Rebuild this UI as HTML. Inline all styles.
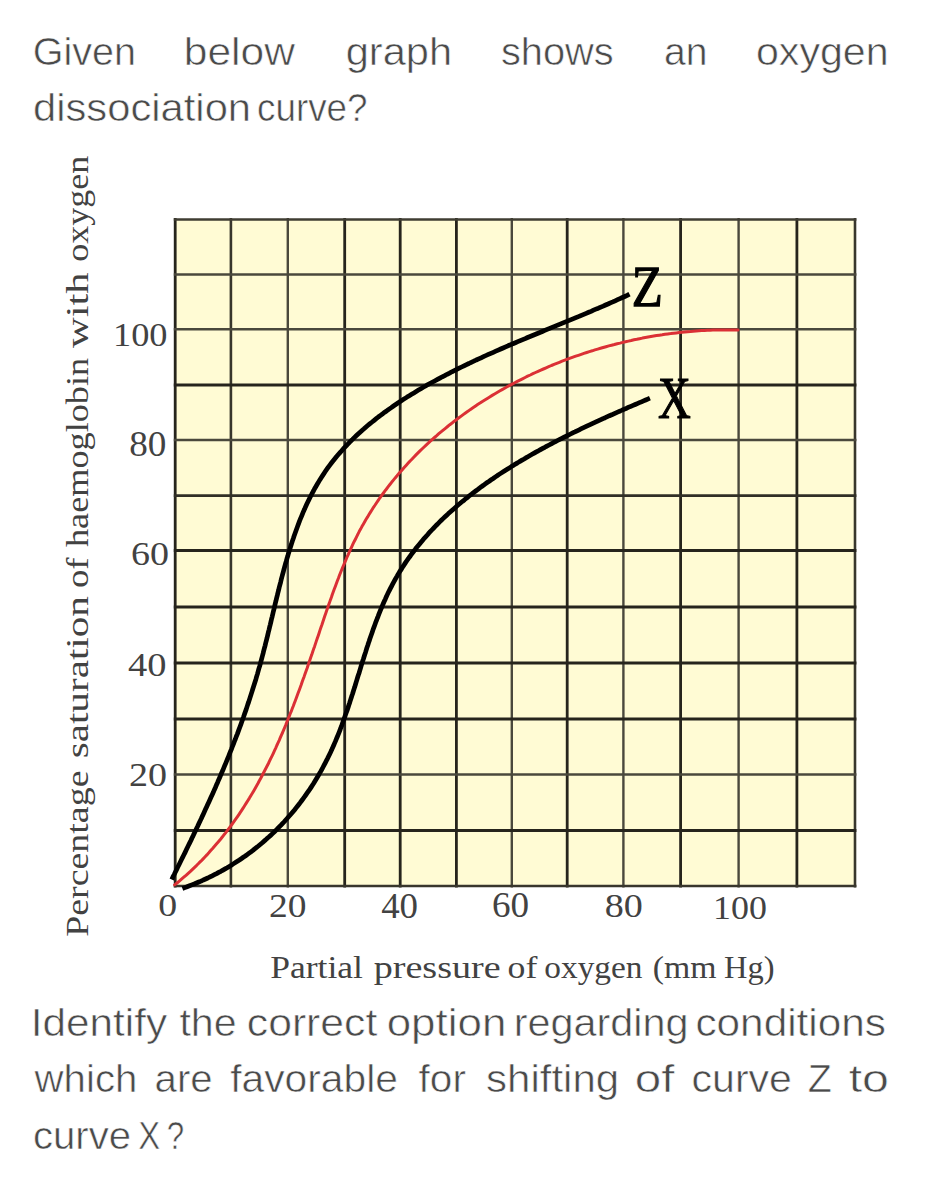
<!DOCTYPE html>
<html><head><meta charset="utf-8"><title>Oxygen dissociation curve</title>
<style>
html,body{margin:0;padding:0;background:#fff;width:929px;height:1200px;overflow:hidden;font-family:"Liberation Sans",sans-serif;}
svg{display:block}
</style></head><body>
<svg width="929" height="1200" viewBox="0 0 929 1200">
<text transform="translate(32.72 64.70) scale(0.9890 0.9600)" font-size="40" fill="#4a4a4a" style="font-family:'Liberation Sans', sans-serif" stroke="#fff" stroke-width="0.6">Given</text>
<text transform="translate(183.73 64.70) scale(1.0637 0.9600)" font-size="40" fill="#4a4a4a" style="font-family:'Liberation Sans', sans-serif" stroke="#fff" stroke-width="0.6">below</text>
<text transform="translate(345.63 64.70) scale(1.0408 0.9600)" font-size="40" fill="#4a4a4a" style="font-family:'Liberation Sans', sans-serif" stroke="#fff" stroke-width="0.6">graph</text>
<text transform="translate(500.90 64.70) scale(0.9955 0.9600)" font-size="40" fill="#4a4a4a" style="font-family:'Liberation Sans', sans-serif" stroke="#fff" stroke-width="0.6">shows</text>
<text transform="translate(664.04 64.70) scale(0.9776 0.9600)" font-size="40" fill="#4a4a4a" style="font-family:'Liberation Sans', sans-serif" stroke="#fff" stroke-width="0.6">an</text>
<text transform="translate(755.95 64.70) scale(1.0289 0.9600)" font-size="40" fill="#4a4a4a" style="font-family:'Liberation Sans', sans-serif" stroke="#fff" stroke-width="0.6">oxygen</text>
<text transform="translate(32.93 120.50) scale(1.0439 0.9600)" font-size="40" fill="#4a4a4a" style="font-family:'Liberation Sans', sans-serif" stroke="#fff" stroke-width="0.6">dissociation</text>
<text transform="translate(257.04 120.50) scale(0.9204 0.9600)" font-size="40" fill="#4a4a4a" style="font-family:'Liberation Sans', sans-serif" stroke="#fff" stroke-width="0.6">curve?</text>
<text transform="translate(30.79 1035.70) scale(1.0567 0.9600)" font-size="40" fill="#4a4a4a" style="font-family:'Liberation Sans', sans-serif" stroke="#fff" stroke-width="0.6">Identify</text>
<text transform="translate(179.38 1035.70) scale(1.0300 0.9600)" font-size="40" fill="#4a4a4a" style="font-family:'Liberation Sans', sans-serif" stroke="#fff" stroke-width="0.6">the</text>
<text transform="translate(246.78 1035.70) scale(1.0682 0.9600)" font-size="40" fill="#4a4a4a" style="font-family:'Liberation Sans', sans-serif" stroke="#fff" stroke-width="0.6">correct</text>
<text transform="translate(386.63 1035.70) scale(1.0984 0.9600)" font-size="40" fill="#4a4a4a" style="font-family:'Liberation Sans', sans-serif" stroke="#fff" stroke-width="0.6">option</text>
<text transform="translate(513.71 1035.70) scale(1.0348 0.9600)" font-size="40" fill="#4a4a4a" style="font-family:'Liberation Sans', sans-serif" stroke="#fff" stroke-width="0.6">regarding</text>
<text transform="translate(695.40 1035.70) scale(1.0582 0.9600)" font-size="40" fill="#4a4a4a" style="font-family:'Liberation Sans', sans-serif" stroke="#fff" stroke-width="0.6">conditions</text>
<text transform="translate(34.60 1092.00) scale(1.0050 0.9600)" font-size="40" fill="#4a4a4a" style="font-family:'Liberation Sans', sans-serif" stroke="#fff" stroke-width="0.6">which</text>
<text transform="translate(154.59 1092.00) scale(1.0055 0.9600)" font-size="40" fill="#4a4a4a" style="font-family:'Liberation Sans', sans-serif" stroke="#fff" stroke-width="0.6">are</text>
<text transform="translate(230.19 1092.00) scale(1.0197 0.9600)" font-size="40" fill="#4a4a4a" style="font-family:'Liberation Sans', sans-serif" stroke="#fff" stroke-width="0.6">favorable</text>
<text transform="translate(418.59 1092.00) scale(1.0154 0.9600)" font-size="40" fill="#4a4a4a" style="font-family:'Liberation Sans', sans-serif" stroke="#fff" stroke-width="0.6">for</text>
<text transform="translate(486.04 1092.00) scale(1.0504 0.9600)" font-size="40" fill="#4a4a4a" style="font-family:'Liberation Sans', sans-serif" stroke="#fff" stroke-width="0.6">shifting</text>
<text transform="translate(634.78 1092.00) scale(1.1893 0.9600)" font-size="40" fill="#4a4a4a" style="font-family:'Liberation Sans', sans-serif" stroke="#fff" stroke-width="0.6">of</text>
<text transform="translate(691.55 1092.00) scale(1.0265 0.9600)" font-size="40" fill="#4a4a4a" style="font-family:'Liberation Sans', sans-serif" stroke="#fff" stroke-width="0.6">curve</text>
<text transform="translate(807.72 1092.00) scale(0.9863 0.9600)" font-size="40" fill="#4a4a4a" style="font-family:'Liberation Sans', sans-serif" stroke="#fff" stroke-width="0.6">Z</text>
<text transform="translate(848.67 1092.00) scale(1.2090 0.9600)" font-size="40" fill="#4a4a4a" style="font-family:'Liberation Sans', sans-serif" stroke="#fff" stroke-width="0.6">to</text>
<text transform="translate(32.99 1148.70) scale(1.0032 0.9600)" font-size="40" fill="#4a4a4a" style="font-family:'Liberation Sans', sans-serif" stroke="#fff" stroke-width="0.6">curve</text>
<text transform="translate(138.26 1148.70) scale(0.8233 0.9600)" font-size="40" fill="#4a4a4a" style="font-family:'Liberation Sans', sans-serif" stroke="#fff" stroke-width="0.6">X</text>
<text transform="translate(166.75 1148.70) scale(0.7812 0.9600)" font-size="40" fill="#4a4a4a" style="font-family:'Liberation Sans', sans-serif" stroke="#fff" stroke-width="0.6">?</text>
<rect x="175.2" y="219.5" width="679.80" height="666.50" fill="#fffbd4"/>
<path d="M175.20 218.10V887.40" stroke="#26241c" stroke-width="2.80" fill="none"/>
<path d="M230.90 218.10V887.40" stroke="#38362c" stroke-width="2.60" fill="none"/>
<path d="M287.80 218.10V887.40" stroke="#4a483c" stroke-width="2.40" fill="none"/>
<path d="M344.70 218.10V887.40" stroke="#26241c" stroke-width="2.80" fill="none"/>
<path d="M400.20 218.10V887.40" stroke="#26241c" stroke-width="2.80" fill="none"/>
<path d="M456.40 218.10V887.40" stroke="#26241c" stroke-width="2.80" fill="none"/>
<path d="M511.80 218.10V887.40" stroke="#4a483c" stroke-width="2.40" fill="none"/>
<path d="M567.20 218.10V887.40" stroke="#26241c" stroke-width="2.80" fill="none"/>
<path d="M623.40 218.10V887.40" stroke="#4a483c" stroke-width="2.40" fill="none"/>
<path d="M680.60 218.10V887.40" stroke="#26241c" stroke-width="2.80" fill="none"/>
<path d="M738.60 218.10V887.40" stroke="#4a483c" stroke-width="2.40" fill="none"/>
<path d="M796.90 218.10V887.40" stroke="#26241c" stroke-width="2.80" fill="none"/>
<path d="M855.00 218.10V887.40" stroke="#38362c" stroke-width="2.60" fill="none"/>
<path d="M173.80 219.50H856.40" stroke="#3f3d32" stroke-width="2.55" fill="none"/>
<path d="M173.80 274.50H856.40" stroke="#4a483c" stroke-width="2.40" fill="none"/>
<path d="M173.80 329.30H856.40" stroke="#4a483c" stroke-width="2.40" fill="none"/>
<path d="M173.80 385.00H856.40" stroke="#26241c" stroke-width="2.90" fill="none"/>
<path d="M173.80 440.00H856.40" stroke="#4a483c" stroke-width="2.40" fill="none"/>
<path d="M173.80 495.50H856.40" stroke="#312f26" stroke-width="2.75" fill="none"/>
<path d="M173.80 550.50H856.40" stroke="#26241c" stroke-width="2.90" fill="none"/>
<path d="M173.80 607.00H856.40" stroke="#26241c" stroke-width="2.90" fill="none"/>
<path d="M173.80 663.00H856.40" stroke="#26241c" stroke-width="2.90" fill="none"/>
<path d="M173.80 719.00H856.40" stroke="#26241c" stroke-width="2.90" fill="none"/>
<path d="M173.80 774.50H856.40" stroke="#4a483c" stroke-width="2.40" fill="none"/>
<path d="M173.80 830.50H856.40" stroke="#26241c" stroke-width="2.90" fill="none"/>
<path d="M173.80 886.00H856.40" stroke="#38362c" stroke-width="2.65" fill="none"/>
<path d="M174.6 884.9 L177.0 883.0 L179.3 881.1 L181.5 879.2 L183.8 877.2 L186.0 875.3 L188.2 873.3 L190.4 871.3 L192.5 869.3 L194.6 867.3 L196.7 865.3 L198.8 863.2 L200.9 861.2 L202.9 859.1 L204.9 857.0 L206.9 854.9 L208.8 852.8 L210.7 850.6 L212.6 848.5 L214.5 846.3 L216.4 844.1 L218.2 842.0 L220.1 839.8 L221.9 837.5 L223.6 835.3 L225.4 833.1 L227.1 830.8 L228.8 828.6 L230.5 826.3 L232.2 824.0 L233.9 821.7 L235.5 819.4 L237.1 817.1 L238.7 814.8 L240.3 812.4 L241.8 810.1 L243.4 807.7 L244.9 805.3 L246.4 802.9 L247.9 800.5 L249.4 798.1 L250.8 795.7 L252.3 793.3 L253.7 790.9 L255.1 788.4 L256.5 786.0 L257.9 783.5 L259.2 781.0 L260.6 778.5 L261.9 776.0 L263.2 773.5 L264.5 771.0 L265.8 768.5 L267.1 766.0 L268.4 763.5 L269.6 760.9 L270.8 758.4 L272.1 755.8 L273.3 753.3 L274.5 750.7 L275.7 748.1 L276.8 745.5 L278.0 742.9 L279.2 740.3 L280.3 737.7 L281.4 735.1 L282.6 732.5 L283.7 729.9 L284.8 727.2 L285.9 724.6 L286.9 722.0 L288.0 719.3 L289.1 716.7 L290.1 714.0 L291.2 711.4 L292.2 708.7 L293.3 706.0 L294.3 703.3 L295.3 700.7 L296.3 698.0 L297.3 695.3 L298.3 692.6 L299.3 689.9 L300.3 687.2 L301.3 684.5 L302.2 681.8 L303.2 679.1 L304.2 676.4 L305.1 673.7 L306.1 670.9 L307.1 668.2 L308.0 665.5 L308.9 662.8 L309.9 660.0 L310.8 657.3 L311.8 654.6 L312.7 651.8 L313.6 649.1 L314.6 646.4 L315.5 643.6 L316.4 640.9 L317.3 638.2 L318.3 635.4 L319.2 632.7 L320.1 629.9 L321.0 627.2 L322.0 624.5 L322.9 621.7 L323.8 619.0 L324.7 616.3 L325.7 613.5 L326.6 610.8 L327.6 608.1 L328.5 605.3 L329.5 602.6 L330.4 599.9 L331.4 597.2 L332.3 594.5 L333.3 591.8 L334.3 589.1 L335.3 586.4 L336.3 583.7 L337.3 581.0 L338.4 578.3 L339.4 575.6 L340.4 573.0 L341.5 570.3 L342.6 567.7 L343.7 565.0 L344.8 562.4 L345.9 559.8 L347.0 557.2 L348.2 554.6 L349.3 552.0 L350.5 549.4 L351.7 546.8 L352.9 544.2 L354.1 541.7 L355.4 539.2 L356.7 536.6 L357.9 534.1 L359.2 531.6 L360.6 529.1 L361.9 526.6 L363.3 524.2 L364.7 521.7 L366.1 519.3 L367.6 516.9 L369.0 514.5 L370.5 512.1 L372.0 509.7 L373.5 507.3 L375.1 505.0 L376.6 502.7 L378.2 500.3 L379.8 498.0 L381.5 495.7 L383.1 493.5 L384.8 491.2 L386.5 489.0 L388.2 486.7 L389.9 484.5 L391.6 482.3 L393.4 480.1 L395.2 477.9 L397.0 475.8 L398.8 473.6 L400.7 471.5 L402.5 469.4 L404.4 467.3 L406.3 465.2 L408.2 463.1 L410.1 461.0 L412.1 459.0 L414.0 457.0 L416.0 454.9 L418.0 452.9 L420.0 450.9 L422.0 449.0 L424.1 447.0 L426.1 445.1 L428.2 443.2 L430.3 441.2 L432.4 439.3 L434.5 437.5 L436.7 435.6 L438.8 433.7 L441.0 431.9 L443.2 430.1 L445.4 428.3 L447.6 426.5 L449.8 424.7 L452.1 423.0 L454.3 421.2 L456.6 419.5 L458.9 417.8 L461.2 416.1 L463.5 414.4 L465.8 412.7 L468.2 411.1 L470.5 409.4 L472.9 407.8 L475.2 406.2 L477.6 404.6 L480.0 403.1 L482.4 401.5 L484.8 400.0 L487.3 398.4 L489.7 396.9 L492.2 395.4 L494.6 394.0 L497.1 392.5 L499.6 391.0 L502.1 389.6 L504.6 388.2 L507.1 386.8 L509.7 385.4 L512.2 384.1 L514.8 382.7 L517.3 381.4 L519.9 380.1 L522.5 378.8 L525.1 377.5 L527.6 376.2 L530.3 375.0 L532.9 373.7 L535.5 372.5 L538.1 371.3 L540.8 370.1 L543.4 369.0 L546.1 367.8 L548.7 366.7 L551.4 365.5 L554.1 364.4 L556.7 363.4 L559.4 362.3 L562.1 361.2 L564.8 360.2 L567.5 359.2 L570.2 358.2 L573.0 357.2 L575.7 356.2 L578.4 355.3 L581.2 354.3 L583.9 353.4 L586.7 352.5 L589.4 351.6 L592.2 350.8 L594.9 349.9 L597.7 349.1 L600.5 348.3 L603.2 347.5 L606.0 346.7 L608.8 345.9 L611.6 345.2 L614.4 344.5 L617.2 343.7 L620.0 343.1 L622.8 342.4 L625.6 341.7 L628.4 341.1 L631.2 340.5 L634.0 339.8 L636.8 339.3 L639.6 338.7 L642.4 338.1 L645.3 337.6 L648.1 337.1 L650.9 336.6 L653.7 336.1 L656.5 335.6 L659.4 335.2 L662.2 334.8 L665.0 334.3 L667.8 333.9 L670.7 333.6 L673.5 333.2 L676.3 332.9 L679.1 332.6 L681.9 332.3 L684.8 332.0 L687.6 331.7 L690.4 331.5 L693.2 331.2 L696.0 331.0 L698.9 330.8 L701.7 330.6 L704.5 330.5 L707.3 330.3 L710.1 330.2 L712.9 330.1 L715.7 330.0 L718.5 330.0 L721.3 329.9 L724.1 329.9 L726.9 329.9 L729.7 329.9 L732.5 329.9 L735.3 330.0 L738.0 330.0" stroke="#db3035" stroke-width="3.0" fill="none" stroke-linecap="round" stroke-linejoin="round"/>
<path d="M171.7 879.4 L172.9 876.9 L174.2 874.5 L175.4 872.0 L176.6 869.6 L177.8 867.1 L179.0 864.7 L180.2 862.3 L181.4 859.8 L182.6 857.4 L183.8 855.0 L185.0 852.6 L186.2 850.1 L187.3 847.7 L188.5 845.3 L189.7 842.9 L190.9 840.5 L192.0 838.0 L193.2 835.6 L194.3 833.2 L195.5 830.8 L196.6 828.4 L197.8 826.0 L198.9 823.6 L200.0 821.2 L201.2 818.8 L202.3 816.3 L203.4 813.9 L204.5 811.5 L205.6 809.1 L206.7 806.7 L207.8 804.3 L208.9 801.9 L210.0 799.5 L211.1 797.1 L212.2 794.7 L213.3 792.3 L214.3 789.9 L215.4 787.5 L216.4 785.1 L217.5 782.7 L218.5 780.2 L219.6 777.8 L220.6 775.4 L221.6 773.0 L222.7 770.6 L223.7 768.2 L224.7 765.7 L225.7 763.3 L226.7 760.9 L227.7 758.5 L228.7 756.0 L229.6 753.6 L230.6 751.2 L231.6 748.8 L232.5 746.3 L233.5 743.9 L234.4 741.4 L235.4 739.0 L236.3 736.5 L237.3 734.1 L238.2 731.6 L239.1 729.2 L240.0 726.7 L240.9 724.3 L241.8 721.8 L242.7 719.3 L243.6 716.8 L244.4 714.4 L245.3 711.9 L246.2 709.4 L247.0 706.9 L247.8 704.4 L248.7 701.9 L249.5 699.4 L250.3 696.9 L251.1 694.4 L251.9 691.9 L252.7 689.3 L253.5 686.8 L254.3 684.3 L255.1 681.7 L255.9 679.2 L256.6 676.6 L257.4 674.1 L258.1 671.5 L258.8 668.9 L259.6 666.4 L260.3 663.8 L261.0 661.2 L261.7 658.6 L262.4 656.0 L263.1 653.4 L263.7 650.8 L264.4 648.2 L265.1 645.6 L265.7 643.0 L266.4 640.3 L267.1 637.7 L267.7 635.1 L268.3 632.4 L269.0 629.8 L269.6 627.2 L270.3 624.5 L270.9 621.9 L271.5 619.2 L272.2 616.6 L272.8 613.9 L273.4 611.3 L274.1 608.6 L274.7 606.0 L275.3 603.4 L276.0 600.7 L276.6 598.1 L277.3 595.4 L277.9 592.8 L278.6 590.2 L279.2 587.5 L279.9 584.9 L280.6 582.3 L281.2 579.7 L281.9 577.0 L282.6 574.4 L283.3 571.8 L284.0 569.2 L284.7 566.6 L285.4 564.0 L286.2 561.4 L286.9 558.8 L287.7 556.3 L288.4 553.7 L289.2 551.1 L290.0 548.6 L290.8 546.0 L291.6 543.5 L292.4 541.0 L293.3 538.5 L294.1 536.0 L295.0 533.5 L295.9 531.0 L296.8 528.5 L297.7 526.0 L298.6 523.6 L299.5 521.1 L300.5 518.7 L301.5 516.3 L302.5 513.8 L303.5 511.4 L304.6 509.1 L305.6 506.7 L306.7 504.3 L307.8 502.0 L308.9 499.7 L310.1 497.3 L311.3 495.0 L312.4 492.8 L313.7 490.5 L314.9 488.2 L316.2 486.0 L317.5 483.8 L318.8 481.6 L320.1 479.4 L321.5 477.2 L322.9 475.1 L324.3 472.9 L325.7 470.8 L327.2 468.7 L328.7 466.6 L330.2 464.6 L331.8 462.5 L333.4 460.5 L335.0 458.5 L336.6 456.5 L338.3 454.5 L340.0 452.6 L341.7 450.7 L343.4 448.7 L345.2 446.8 L347.0 445.0 L348.8 443.1 L350.6 441.2 L352.5 439.4 L354.3 437.6 L356.2 435.8 L358.1 434.0 L360.1 432.2 L362.0 430.5 L364.0 428.8 L366.0 427.0 L368.0 425.3 L370.0 423.6 L372.1 422.0 L374.2 420.3 L376.2 418.7 L378.3 417.0 L380.5 415.4 L382.6 413.8 L384.7 412.2 L386.9 410.7 L389.1 409.1 L391.3 407.6 L393.5 406.0 L395.7 404.5 L397.9 403.0 L400.2 401.5 L402.4 400.0 L404.7 398.6 L407.0 397.1 L409.3 395.7 L411.6 394.3 L413.9 392.9 L416.2 391.5 L418.5 390.1 L420.9 388.7 L423.2 387.3 L425.6 386.0 L427.9 384.6 L430.3 383.3 L432.7 382.0 L435.1 380.7 L437.5 379.4 L439.9 378.1 L442.3 376.8 L444.7 375.6 L447.1 374.3 L449.5 373.1 L451.9 371.8 L454.3 370.6 L456.8 369.4 L459.2 368.2 L461.6 367.0 L464.0 365.8 L466.5 364.6 L468.9 363.5 L471.3 362.3 L473.8 361.2 L476.2 360.0 L478.7 358.9 L481.1 357.8 L483.5 356.7 L486.0 355.5 L488.4 354.4 L490.9 353.3 L493.3 352.3 L495.8 351.2 L498.2 350.1 L500.7 349.0 L503.1 348.0 L505.6 346.9 L508.0 345.8 L510.5 344.8 L512.9 343.7 L515.4 342.7 L517.8 341.7 L520.3 340.6 L522.7 339.6 L525.2 338.6 L527.6 337.5 L530.1 336.5 L532.5 335.5 L535.0 334.5 L537.4 333.5 L539.9 332.5 L542.3 331.5 L544.8 330.4 L547.2 329.4 L549.7 328.4 L552.1 327.4 L554.6 326.4 L557.0 325.4 L559.5 324.4 L561.9 323.4 L564.3 322.4 L566.8 321.4 L569.2 320.4 L571.7 319.4 L574.1 318.4 L576.5 317.4 L579.0 316.4 L581.4 315.3 L583.8 314.3 L586.2 313.3 L588.7 312.3 L591.1 311.3 L593.5 310.2 L595.9 309.2 L598.4 308.2 L600.8 307.1 L603.2 306.1 L605.6 305.0 L608.0 304.0 L610.4 302.9 L612.8 301.9 L615.2 300.8 L617.6 299.7 L620.0 298.6 L622.4 297.5 L624.8 296.5 L627.2 295.4 L629.5 294.2" stroke="#000" stroke-width="4.7" fill="none" stroke-linejoin="round"/>
<path d="M182.4 888.5 L184.8 887.6 L187.1 886.7 L189.5 885.8 L191.8 884.9 L194.2 884.0 L196.5 883.0 L198.8 882.0 L201.1 881.1 L203.3 880.0 L205.6 879.0 L207.8 878.0 L210.0 876.9 L212.2 875.8 L214.4 874.7 L216.6 873.6 L218.7 872.4 L220.9 871.3 L223.0 870.1 L225.1 868.9 L227.2 867.7 L229.3 866.4 L231.3 865.2 L233.3 863.9 L235.4 862.6 L237.4 861.3 L239.4 860.0 L241.3 858.7 L243.3 857.3 L245.3 856.0 L247.2 854.6 L249.1 853.2 L251.0 851.8 L252.9 850.4 L254.7 848.9 L256.6 847.4 L258.4 846.0 L260.2 844.5 L262.0 843.0 L263.8 841.4 L265.6 839.9 L267.3 838.3 L269.1 836.8 L270.8 835.2 L272.5 833.6 L274.2 832.0 L275.9 830.3 L277.5 828.7 L279.1 827.0 L280.8 825.4 L282.4 823.7 L284.0 822.0 L285.5 820.3 L287.1 818.5 L288.6 816.8 L290.2 815.0 L291.7 813.3 L293.2 811.5 L294.7 809.7 L296.1 807.9 L297.6 806.0 L299.0 804.2 L300.4 802.4 L301.8 800.5 L303.2 798.6 L304.6 796.7 L305.9 794.8 L307.2 792.9 L308.6 791.0 L309.9 789.1 L311.2 787.1 L312.4 785.2 L313.7 783.2 L314.9 781.2 L316.1 779.2 L317.3 777.2 L318.5 775.2 L319.7 773.1 L320.9 771.1 L322.0 769.1 L323.1 767.0 L324.2 764.9 L325.3 762.8 L326.4 760.7 L327.5 758.6 L328.5 756.5 L329.5 754.4 L330.6 752.2 L331.6 750.1 L332.5 747.9 L333.5 745.8 L334.4 743.6 L335.4 741.4 L336.3 739.2 L337.2 737.0 L338.1 734.8 L339.0 732.6 L339.9 730.4 L340.7 728.1 L341.6 725.9 L342.4 723.6 L343.2 721.4 L344.0 719.1 L344.8 716.9 L345.6 714.6 L346.4 712.3 L347.2 710.1 L348.0 707.8 L348.7 705.5 L349.5 703.2 L350.2 700.9 L351.0 698.6 L351.7 696.3 L352.5 694.0 L353.2 691.7 L353.9 689.4 L354.7 687.1 L355.4 684.8 L356.1 682.4 L356.8 680.1 L357.5 677.8 L358.2 675.5 L359.0 673.2 L359.7 670.9 L360.4 668.6 L361.1 666.2 L361.8 663.9 L362.5 661.6 L363.3 659.3 L364.0 657.0 L364.7 654.7 L365.5 652.4 L366.2 650.1 L366.9 647.8 L367.7 645.5 L368.4 643.3 L369.2 641.0 L369.9 638.7 L370.7 636.4 L371.5 634.2 L372.3 631.9 L373.1 629.6 L373.9 627.4 L374.7 625.2 L375.5 622.9 L376.4 620.7 L377.2 618.5 L378.1 616.3 L378.9 614.1 L379.8 611.9 L380.7 609.7 L381.6 607.5 L382.5 605.3 L383.4 603.2 L384.4 601.0 L385.4 598.9 L386.3 596.8 L387.3 594.6 L388.3 592.5 L389.4 590.4 L390.4 588.4 L391.5 586.3 L392.6 584.2 L393.7 582.2 L394.8 580.1 L395.9 578.1 L397.1 576.1 L398.2 574.1 L399.4 572.1 L400.7 570.2 L401.9 568.2 L403.1 566.3 L404.4 564.4 L405.7 562.4 L407.0 560.5 L408.3 558.6 L409.7 556.8 L411.0 554.9 L412.4 553.0 L413.8 551.2 L415.2 549.4 L416.6 547.5 L418.1 545.7 L419.6 543.9 L421.0 542.2 L422.5 540.4 L424.0 538.6 L425.6 536.9 L427.1 535.2 L428.6 533.4 L430.2 531.7 L431.8 530.0 L433.4 528.3 L435.0 526.6 L436.6 525.0 L438.3 523.3 L439.9 521.7 L441.6 520.0 L443.3 518.4 L445.0 516.8 L446.7 515.2 L448.4 513.6 L450.2 512.0 L451.9 510.5 L453.7 508.9 L455.4 507.4 L457.2 505.8 L459.0 504.3 L460.8 502.8 L462.6 501.3 L464.5 499.8 L466.3 498.3 L468.2 496.8 L470.0 495.3 L471.9 493.9 L473.8 492.4 L475.7 491.0 L477.6 489.6 L479.5 488.1 L481.4 486.7 L483.4 485.3 L485.3 483.9 L487.2 482.5 L489.2 481.2 L491.2 479.8 L493.2 478.5 L495.1 477.1 L497.1 475.8 L499.1 474.4 L501.1 473.1 L503.2 471.8 L505.2 470.5 L507.2 469.2 L509.3 467.9 L511.3 466.6 L513.3 465.4 L515.4 464.1 L517.5 462.9 L519.5 461.6 L521.6 460.4 L523.7 459.2 L525.8 457.9 L527.9 456.7 L530.0 455.5 L532.1 454.3 L534.2 453.1 L536.3 451.9 L538.4 450.8 L540.5 449.6 L542.7 448.4 L544.8 447.3 L546.9 446.1 L549.1 445.0 L551.2 443.9 L553.3 442.7 L555.5 441.6 L557.6 440.5 L559.8 439.4 L561.9 438.3 L564.1 437.2 L566.3 436.1 L568.4 435.1 L570.6 434.0 L572.7 432.9 L574.9 431.9 L577.1 430.8 L579.2 429.8 L581.4 428.7 L583.6 427.7 L585.7 426.7 L587.9 425.6 L590.1 424.6 L592.2 423.6 L594.4 422.6 L596.5 421.6 L598.7 420.6 L600.9 419.6 L603.0 418.6 L605.2 417.7 L607.4 416.7 L609.5 415.7 L611.7 414.8 L613.8 413.8 L616.0 412.8 L618.1 411.9 L620.3 411.0 L622.4 410.0 L624.5 409.1 L626.7 408.2 L628.8 407.2 L630.9 406.3 L633.1 405.4 L635.2 404.5 L637.3 403.6 L639.4 402.7 L641.5 401.8 L643.6 400.9 L645.7 400.0 L647.8 399.1 L649.9 398.2" stroke="#000" stroke-width="4.7" fill="none" stroke-linejoin="round"/>
<text transform="translate(631.64 305.55) scale(1.2709 1.4466)" font-size="40" fill="#000" style="font-family:'Liberation Serif', serif" stroke="#000" stroke-width="0.90">Z</text>
<text transform="translate(657.98 417.60) scale(1.1355 1.4847)" font-size="40" fill="#000" style="font-family:'Liberation Serif', serif" stroke="#000" stroke-width="0.80">X</text>
<text transform="translate(113.02 345.66) scale(0.9091 0.8444)" font-size="40" fill="#424242" style="font-family:'Liberation Serif', serif">100</text>
<text transform="translate(129.21 455.95) scale(0.9297 0.8815)" font-size="40" fill="#424242" style="font-family:'Liberation Serif', serif">80</text>
<text transform="translate(130.88 564.67) scale(0.9511 0.8333)" font-size="40" fill="#424242" style="font-family:'Liberation Serif', serif">60</text>
<text transform="translate(127.98 675.96) scale(0.9615 0.8593)" font-size="40" fill="#424242" style="font-family:'Liberation Serif', serif">40</text>
<text transform="translate(128.98 785.92) scale(0.9511 0.8333)" font-size="40" fill="#424242" style="font-family:'Liberation Serif', serif">20</text>
<text transform="translate(158.28 915.88) scale(0.9471 0.8111)" font-size="40" fill="#424242" style="font-family:'Liberation Serif', serif">0</text>
<text transform="translate(269.11 916.65) scale(0.9375 0.8630)" font-size="40" fill="#424242" style="font-family:'Liberation Serif', serif">20</text>
<text transform="translate(381.16 917.55) scale(0.9231 0.8815)" font-size="40" fill="#424242" style="font-family:'Liberation Serif', serif">40</text>
<text transform="translate(491.92 916.65) scale(0.9293 0.8815)" font-size="40" fill="#424242" style="font-family:'Liberation Serif', serif">60</text>
<text transform="translate(604.77 916.65) scale(0.9541 0.8630)" font-size="40" fill="#424242" style="font-family:'Liberation Serif', serif">80</text>
<text transform="translate(712.96 918.57) scale(0.8982 0.8259)" font-size="40" fill="#424242" style="font-family:'Liberation Serif', serif">100</text>
<text transform="translate(270.22 977.80) scale(1.1098 1.0000)" font-size="32" fill="#424242" style="font-family:'Liberation Serif', serif" >Partial</text>
<text transform="translate(373.63 977.80) scale(1.1919 1.0000)" font-size="32" fill="#424242" style="font-family:'Liberation Serif', serif" >pressure</text>
<text transform="translate(507.56 977.80) scale(1.1164 1.0000)" font-size="32" fill="#424242" style="font-family:'Liberation Serif', serif" >of</text>
<text transform="translate(544.35 977.80) scale(1.0415 1.0000)" font-size="32" fill="#424242" style="font-family:'Liberation Serif', serif" >oxygen</text>
<text transform="translate(652.66 977.80) scale(1.0553 1.0000)" font-size="32" fill="#424242" style="font-family:'Liberation Serif', serif" >(mm</text>
<text transform="translate(724.11 977.80) scale(1.0143 1.0000)" font-size="32" fill="#424242" style="font-family:'Liberation Serif', serif" >Hg)</text>
<g transform="translate(87.8 936.3) rotate(-90)"><text transform="translate(-0.54 0) scale(1.1857 1)" font-size="32" fill="#424242" style="font-family:'Liberation Serif', serif" >Percentage</text><text transform="translate(177.95 0) scale(1.2862 1)" font-size="32" fill="#424242" style="font-family:'Liberation Serif', serif" >saturation</text><text transform="translate(348.22 0) scale(1.1478 1)" font-size="32" fill="#424242" style="font-family:'Liberation Serif', serif" >of</text><text transform="translate(389.24 0) scale(1.1328 1)" font-size="32" fill="#424242" style="font-family:'Liberation Serif', serif" >haemoglobin</text><text transform="translate(588.30 0) scale(1.3279 1)" font-size="32" fill="#424242" style="font-family:'Liberation Serif', serif" >with</text><text transform="translate(674.55 0) scale(1.1252 1)" font-size="32" fill="#424242" style="font-family:'Liberation Serif', serif" >oxygen</text></g>
</svg>
</body></html>
